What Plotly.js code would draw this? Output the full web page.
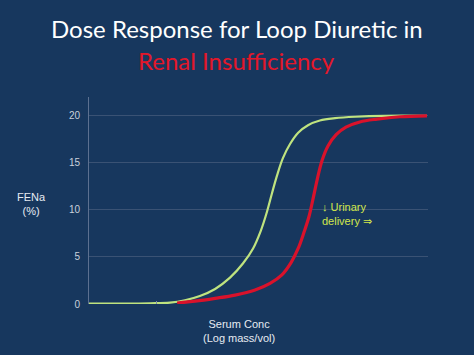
<!DOCTYPE html>
<html>
<head>
<meta charset="utf-8">
<script src="https://cdn.plot.ly/plotly-3.0.1.min.js"></script>
<style>html,body{margin:0;padding:0;background:#17375e;}#chart{width:474px;height:355px;}</style>
</head>
<body>
<div id="chart"></div>
<script>
// Serum concentration (relative log units, 0-100) and FENa (%)
const normalX = [0, 9.1, 18.0, 23.9, 28.3, 32.7, 37.2, 41.6, 45.4, 48.4, 50.7, 52.5, 54.0, 55.5, 57.2, 59.3, 61.7, 64.6, 68.1, 72.6, 78.5, 87.3, 99.7];
const normalY = [0.05, 0.05, 0.08, 0.15, 0.4, 0.85, 1.6, 2.8, 4.3, 5.9, 7.8, 9.8, 11.8, 13.7, 15.5, 17.0, 18.2, 19.0, 19.5, 19.75, 19.9, 20.0, 20.0];
const renalX = [26.0, 31.3, 37.2, 43.1, 49.0, 53.4, 56.9, 59.6, 61.7, 63.4, 64.9, 66.1, 67.3, 68.7, 70.5, 72.9, 75.8, 79.9, 85.0, 91.7, 99.7];
const renalY = [0.1, 0.3, 0.6, 0.95, 1.5, 2.2, 3.1, 4.4, 5.9, 7.6, 9.3, 11.2, 13.2, 15.2, 16.8, 18.0, 18.8, 19.35, 19.65, 19.9, 20.0];
const yTicks = [0, 5, 10, 15, 20];

const traces = [
  {x: normalX, y: normalY, type: 'scatter', mode: 'lines', line: {color: '#bfe37f', width: 2.2, shape: 'spline', smoothing: 1}, hoverinfo: 'skip'},
  {x: renalX, y: renalY, type: 'scatter', mode: 'lines', line: {color: '#d9122b', width: 3.2, shape: 'spline', smoothing: 1}, hoverinfo: 'skip'}
];

const layout = {
  width: 474, height: 355,
  paper_bgcolor: '#17375e', plot_bgcolor: '#17375e',
  margin: {l: 89, r: 46, t: 97, b: 51},
  showlegend: false,
  xaxis: {range: [0, 100], showgrid: false, zeroline: false, showline: false,
          tickvals: [20], ticktext: [''], ticks: 'inside', ticklen: 3, tickcolor: '#7f8fa6', fixedrange: true},
  yaxis: {range: [0, 22], tickvals: yTicks, showgrid: true, gridcolor: '#3a5274', gridwidth: 1,
          zeroline: false, showline: true, linecolor: '#5c7090', linewidth: 1,
          ticks: '', ticklen: 0, tickfont: {family: 'Liberation Sans, Arial', size: 10, color: '#c9d1dc'},
          ticklabelstandoff: 6, fixedrange: true},
  annotations: [
    {xref: 'paper', yref: 'paper', x: (236.5-89)/339, y: (304-28)/207, text: 'Dose Response for Loop Diuretic in', showarrow: false,
     xanchor: 'center', yanchor: 'middle', font: {family: 'Lato, Open Sans, sans-serif', size: 24, color: '#ffffff'}},
    {xref: 'paper', yref: 'paper', x: (236.5-89)/339, y: (304-60)/207, text: 'Renal Insufficiency', showarrow: false,
     xanchor: 'center', yanchor: 'middle', font: {family: 'Lato, Open Sans, sans-serif', size: 24, color: '#e3172a'}},
    {xref: 'paper', yref: 'paper', x: (31-89)/339, y: (304-204)/207, text: 'FENa<br>(%)', showarrow: false,
     xanchor: 'center', yanchor: 'middle', font: {family: 'Liberation Sans, Arial', size: 11, color: '#e6ebf2'}},
    {xref: 'paper', yref: 'paper', x: (238.5-89)/339, y: (304-331)/207, text: 'Serum Conc<br>(Log mass/vol)', showarrow: false,
     xanchor: 'center', yanchor: 'middle', font: {family: 'Liberation Sans, Arial', size: 11, color: '#e6ebf2'}},
    {xref: 'paper', yref: 'paper', x: (320-89)/339, y: (304-214)/207, text: '\u2193 Urinary<br>delivery \u21D2', showarrow: false, align: 'left',
     xanchor: 'left', yanchor: 'middle', font: {family: 'Liberation Sans, Arial', size: 11, color: '#d2e64c'}}
  ]
};

Plotly.newPlot('chart', traces, layout, {displayModeBar: false, staticPlot: true});
</script>
</body>
</html>
